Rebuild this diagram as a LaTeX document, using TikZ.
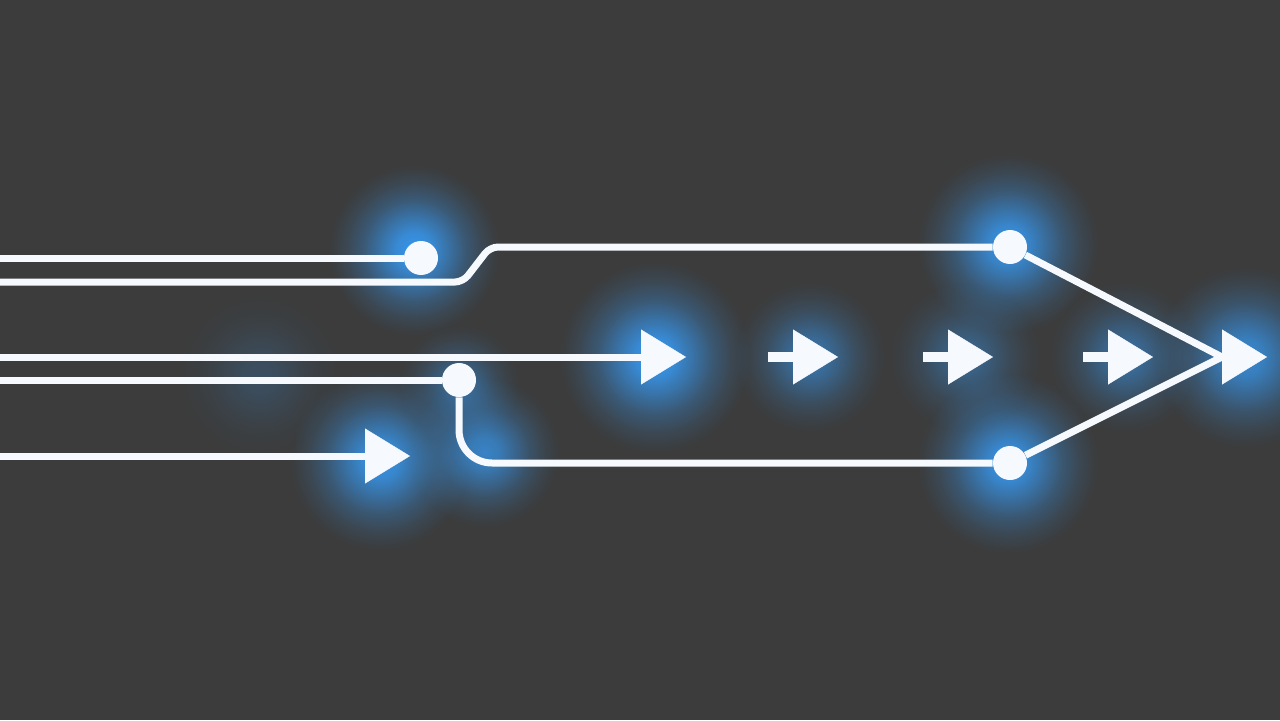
\documentclass[tikz,border=0pt]{standalone}
\usepackage{tikz}
\usetikzlibrary{calc}
\usetikzlibrary{arrows.meta, fadings}
\definecolor{bgcol}{RGB}{60,60,60}
\definecolor{glowcol}{RGB}{55,155,245}
\definecolor{wirecol}{RGB}{246,250,255}
% soft radial fade for the glow
\pgfdeclareradialshading{glowshade}{\pgfpointorigin}{color(0bp)=(pgftransparent!0); color(5bp)=(pgftransparent!12); color(10bp)=(pgftransparent!40); color(15bp)=(pgftransparent!68); color(20bp)=(pgftransparent!87); color(25bp)=(pgftransparent!100); color(50bp)=(pgftransparent!100)}
\pgfdeclarefading{glowfade}{\pgfuseshading{glowshade}}
\tikzstyle{wire} = [line width=0.14cm, draw=wirecol]
\tikzstyle{stubline} = [line width=0.2cm, draw=wirecol]
\tikzstyle{pad} = [circle, 
fill=wirecol, 
minimum size=0.68cm, 
inner sep=0pt]
\tikzstyle{headarrow} = [-{Triangle[length=0.9cm, width=1.1cm, line width=0.2pt]}]
\tikzstyle{glow} = [fill=glowcol, path fading=glowfade]

\begin{document}
\begin{tikzpicture}[x=0.02cm, y=-0.02cm]
    \useasboundingbox (0,0) rectangle (1280,720);
    \fill [bgcol] (0,0) rectangle (1280,720);

    % Glow
    \foreach \gx/\gy/\gr/\go in {414/250/85/0.95, 1008/244/90/0.9, 1008/463/90/0.9,
        459/385/60/0.5, 484/452/75/0.75, 380/460/90/0.9, 655/357/95/0.95,
        810/357/75/0.6, 965/357/75/0.45, 1125/357/75/0.55, 1245/357/90/0.8, 260/375/80/0.2}
        \fill [glow, fill opacity=\go] (\gx,\gy) circle (\gr);

    \node (padA) [pad] at (421,258) {};
    \node (padD) [pad] at (459,380) {};
    \node (padTR) [pad] at (1010,247) {};
    \node (padBR) [pad] at (1010,463) {};

    \coordinate (a0) at (0,258);
    \coordinate (b0) at (0,282);
    \coordinate (c0) at (0,357);
    \coordinate (d0) at (0,380);
    \coordinate (e0) at (0,456);
    \coordinate (tipC) at (686,357);
    \coordinate (tipE) at (410,456);
    \coordinate (meet) at (1222,357);
    \coordinate (tipF) at (1267,357);

    % Left wires
    \draw [wire] (a0) -- (padA);
    \draw [wire, rounded corners=0.16cm] (b0) -- (463,282) -- (490,247) -- (padTR);
    \draw [wire, headarrow] (c0) -- (tipC);
    \draw [wire] (d0) -- (padD);
    \draw [wire, rounded corners=0.66cm] (padD) -- (459,463) -- (padBR);
    \draw [wire, headarrow] (e0) -- (tipE);

    % Small arrows
    \foreach \x [count=\i] in {768,923,1083} {
        \coordinate (s\i) at (\x,357);
        \coordinate (t\i) at (\x+70,357);
        \draw [stubline, headarrow] (s\i) -- (t\i);
    }

    % Converging wires
    \draw [wire] (padTR) -- (meet);
    \draw [wire] (padBR) -- (meet);
    \draw [wire, headarrow] (meet) -- (tipF);
\end{tikzpicture}
\end{document}
